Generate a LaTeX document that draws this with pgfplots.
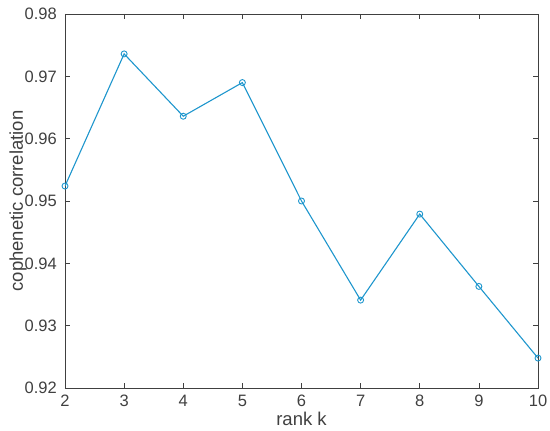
\documentclass[border=0pt]{standalone}
\usepackage{fontspec}
\setmainfont{Liberation Sans}
\usepackage{pgfplots}
\pgfplotsset{compat=1.18}
\usetikzlibrary{calc}
\definecolor{mblue}{RGB}{30,150,205}
\definecolor{axgray}{rgb}{0.25,0.25,0.25}
\begin{document}
\begin{tikzpicture}
\begin{axis}[
  name=ax,
  scale only axis,
  width=473pt, height=374pt,
  xmin=2, xmax=10, ymin=0.92, ymax=0.98,
  xtick={2,3,...,10},
  ytick={0.92,0.93,...,0.98},
  yticklabel style={/pgf/number format/fixed, /pgf/number format/precision=2, /pgf/number format/zerofill},
  /pgf/number format/assume math mode=true,
  tick align=inside,
  major tick length=5pt,
  axis line style={axgray, line width=0.7pt},
  tick style={axgray, line width=0.7pt},
  ticklabel style={font=\fontsize{16.5}{18}\selectfont, text=axgray, inner sep=0pt},
  yticklabel style={xshift=-8pt},
  xticklabel style={yshift=-7pt},
  label style={font=\fontsize{18.5}{20}\selectfont, text=axgray, inner sep=0pt},
  xlabel={rank k},
  ylabel={cophenetic correlation},
  xlabel style={at={(axis description cs:0.5,0)}, anchor=base, yshift=-37pt},
  ylabel style={at={(axis description cs:0,0.5)}, anchor=base, yshift=42pt},
]
\addplot[color=mblue, line width=1.1pt, mark=o, mark size=3pt, mark options={line width=0.9pt}]
coordinates {(2,0.9524) (3,0.9736) (4,0.9636) (5,0.9690) (6,0.9500) (7,0.9341) (8,0.9479) (9,0.9363) (10,0.9248)};
\end{axis}
\pgfresetboundingbox
\path[use as bounding box] ($(ax.south west)+(-65pt,-42pt)$) rectangle ($(ax.north east)+(12pt,14pt)$);
\end{tikzpicture}
\end{document}
